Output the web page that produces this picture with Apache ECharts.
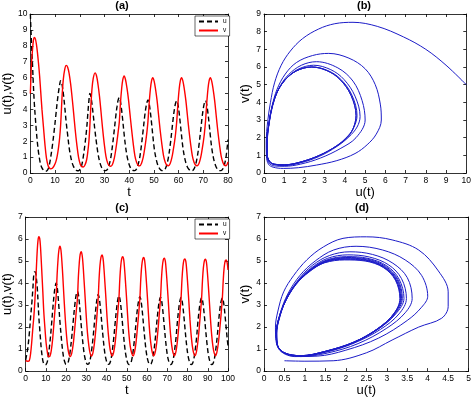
<!DOCTYPE html>
<html>
<head>
<meta charset="utf-8">
<script src="https://cdn.jsdelivr.net/npm/echarts@6/dist/echarts.min.js"></script>
<style>
  html, body { margin: 0; padding: 0; background: #fff; }
  #main { width: 474px; height: 398px; }
</style>
</head>
<body>
<div id="main"></div>
<script>
// (a)/(b): first run, t in [0,80] (one line per cycle)
var tA = [0, 0.25, 0.5, 0.85, 1.2, 1.6, 2.0, 2.4, 2.85, 3.3, 3.75, 4.2, 4.7, 5.3, 5.9, 6.5, 7.1, 7.6, 8.2, 8.9, 9.6, 10.3, 10.9, 11.4, 11.85, 12.25, 12.55, 12.9, 13.35, 13.9, 14.5,
  15.1, 15.7, 16.3, 16.9, 17.5, 18.1, 18.8, 19.5, 20.2, 20.8, 21.4, 22.1, 22.8, 23.3, 23.7, 24.1, 24.45, 24.9, 25.45, 26.2,
  26.8, 27.4, 28.0, 28.6, 29.2, 29.9, 30.6, 31.3, 31.9, 32.6, 33.3, 34.0, 34.6, 35.1, 35.55, 36.0, 36.45, 36.95, 37.4, 37.95,
  38.5, 39.1, 39.7, 40.3, 40.9, 41.6, 42.3, 43.0, 43.6, 44.3, 45.0, 45.7, 46.3, 46.8, 47.2, 47.6,
  48.1, 48.6, 49.05, 49.55, 50.1, 50.7, 51.3, 51.9, 52.5, 53.2, 53.9, 54.6, 55.2, 55.9, 56.6, 57.3, 57.9, 58.4, 58.8, 59.25,
  59.75, 60.25, 60.7, 61.2, 61.75, 62.35, 62.95, 63.55, 64.15, 64.85, 65.55, 66.25, 66.85, 67.55, 68.25, 68.95, 69.55, 70.05, 70.45, 70.9,
  71.4, 71.9, 72.35, 72.85, 73.4, 74.0, 74.6, 75.2, 75.8, 76.5, 77.2, 77.9, 78.5, 79.2, 80.0];
var uA = [10, 9.0, 8.0, 6.9, 5.6, 4.4, 3.5, 2.7, 1.9, 1.3, 0.85, 0.52, 0.32, 0.18, 0.11, 0.12, 0.22, 0.45, 0.95, 1.7, 2.6, 3.6, 4.5, 5.1, 5.55, 5.8, 5.75, 5.5, 5.0, 4.2, 3.2,
  2.4, 1.6, 1.05, 0.65, 0.4, 0.24, 0.15, 0.14, 0.26, 0.5, 1.0, 1.8, 2.8, 3.8, 4.55, 5.0, 4.85, 4.4, 3.65, 2.6,
  1.85, 1.2, 0.74, 0.44, 0.26, 0.16, 0.15, 0.26, 0.52, 1.0, 1.8, 2.75, 3.6, 4.2, 4.6, 4.75, 4.5, 3.95, 3.3, 2.45,
  1.7, 1.1, 0.68, 0.4, 0.25, 0.16, 0.15, 0.26, 0.52, 1.0, 1.8, 2.75, 3.6, 4.15, 4.45, 4.6,
  4.35, 3.8, 3.15, 2.38, 1.6, 1.03, 0.64, 0.38, 0.24, 0.15, 0.15, 0.26, 0.5, 1.0, 1.75, 2.7, 3.55, 4.1, 4.4, 4.55,
  4.3, 3.75, 3.1, 2.35, 1.6, 1.03, 0.64, 0.38, 0.24, 0.15, 0.15, 0.26, 0.5, 1.0, 1.75, 2.7, 3.55, 4.1, 4.4, 4.55,
  4.3, 3.75, 3.1, 2.35, 1.6, 1.03, 0.64, 0.38, 0.24, 0.15, 0.15, 0.26, 0.5, 1.0, 2.1];
var vA = [5, 6.1, 7.0, 7.7, 8.3, 8.53, 8.45, 8.15, 7.6, 6.9, 6.1, 5.1, 4.0, 2.9, 1.8, 0.95, 0.5, 0.33, 0.26, 0.3, 0.45, 0.7, 1.1, 1.6, 2.2, 3.0, 3.9, 5.0, 5.9, 6.5, 6.77,
  6.65, 6.25, 5.6, 4.75, 3.8, 2.8, 1.8, 1.0, 0.55, 0.4, 0.38, 0.5, 0.85, 1.4, 2.0, 3.0, 4.1, 5.2, 5.95, 6.3,
  6.1, 5.55, 4.8, 3.85, 2.85, 1.85, 1.05, 0.62, 0.47, 0.42, 0.57, 0.95, 1.5, 2.05, 2.6, 3.2, 4.35, 5.3, 5.85, 6.1,
  5.88, 5.35, 4.65, 3.75, 2.85, 1.9, 1.1, 0.67, 0.49, 0.45, 0.62, 1.0, 1.55, 2.1, 2.6, 3.25,
  4.4, 5.3, 5.8, 6.0, 5.78, 5.25, 4.55, 3.65, 2.75, 1.85, 1.1, 0.68, 0.5, 0.46, 0.6, 0.98, 1.5, 2.0, 2.5, 3.25,
  4.4, 5.3, 5.8, 6.0, 5.78, 5.25, 4.55, 3.65, 2.75, 1.85, 1.1, 0.68, 0.5, 0.46, 0.6, 0.98, 1.5, 2.0, 2.5, 3.25,
  4.4, 5.3, 5.8, 6.0, 5.78, 5.25, 4.55, 3.65, 2.75, 1.85, 1.1, 0.68, 0.5, 0.46, 0.7];

// (c)/(d): second run, t in [0,100]
var tC = [0, 1.0, 1.8, 2.5, 3.1, 3.6, 4.0, 4.4, 4.8, 5.25, 5.75, 6.15, 6.5, 6.95, 7.35, 7.7, 8.1, 8.5, 8.95, 9.5, 10.1, 10.7, 11.3, 12.0, 12.7, 13.4, 14.1, 14.6, 15.1,
  15.55, 16.0, 16.45, 16.95, 17.45, 17.9, 18.35, 18.85, 19.4, 20.0, 20.65, 21.3, 22.0, 22.8, 23.55, 24.3, 24.95, 25.6,
  26.05, 26.5, 26.95, 27.45, 27.95, 28.4, 28.85, 29.4, 29.95, 30.55, 31.2, 31.85, 32.55, 33.3, 34.0, 34.7, 35.3, 35.85,
  36.3, 36.75, 37.25, 37.75, 38.25, 38.7, 39.15, 39.7, 40.25, 40.85, 41.45, 42.1, 42.8, 43.55, 44.25, 44.9, 45.5, 46.1,
  46.55, 47.0, 47.5, 48.0, 48.5, 48.95, 49.4, 49.95, 50.5, 51.05, 51.65, 52.4, 53.1, 53.85, 54.55, 55.2, 55.85, 56.45,
  56.9, 57.35, 57.85, 58.35, 58.85, 59.3, 59.75, 60.3, 60.85, 61.4, 62.0, 62.65, 63.35, 64.1, 64.8, 65.45, 66.05, 66.65,
  67.1, 67.55, 68.05, 68.55, 69.05, 69.5, 69.95, 70.5, 71.05, 71.6, 72.2, 72.85, 73.55, 74.3, 74.95, 75.6, 76.2, 76.8,
  77.25, 77.7, 78.2, 78.7, 79.2, 79.65, 80.1, 80.65, 81.2, 81.75, 82.35, 83.0, 83.7, 84.45, 85.1, 85.75, 86.35, 86.95,
  87.4, 87.85, 88.35, 88.85, 89.35, 89.8, 90.25, 90.8, 91.35, 91.9, 92.5, 93.15, 93.85, 94.6, 95.3, 95.95, 96.6, 97.2,
  97.65, 98.1, 98.6, 99.1, 99.6, 100];
var uC = [0.5, 1.0, 1.69, 2.5, 3.13, 3.78, 4.34, 4.5, 4.5, 4.26, 3.78, 3.13, 2.5, 1.93, 1.45, 1.05, 0.72, 0.48, 0.34, 0.28, 0.3, 0.42, 0.75, 1.3, 2.0, 2.8, 3.5, 3.85, 4.0,
  3.85, 3.45, 2.9, 2.25, 1.7, 1.25, 0.88, 0.58, 0.4, 0.31, 0.33, 0.5, 0.9, 1.55, 2.3, 3.0, 3.45, 3.62,
  3.5, 3.15, 2.65, 2.1, 1.6, 1.18, 0.84, 0.56, 0.39, 0.31, 0.33, 0.5, 0.9, 1.5, 2.2, 2.85, 3.3, 3.48,
  3.36, 3.05, 2.58, 2.05, 1.55, 1.14, 0.81, 0.54, 0.38, 0.31, 0.33, 0.5, 0.9, 1.5, 2.2, 2.8, 3.22, 3.42,
  3.3, 3.0, 2.54, 2.02, 1.52, 1.11, 0.79, 0.53, 0.36, 0.3, 0.33, 0.5, 0.9, 1.5, 2.2, 2.8, 3.2, 3.38,
  3.27, 2.97, 2.52, 2.0, 1.5, 1.1, 0.78, 0.52, 0.36, 0.3, 0.33, 0.5, 0.9, 1.5, 2.2, 2.78, 3.18, 3.36,
  3.25, 2.95, 2.5, 1.99, 1.5, 1.1, 0.78, 0.52, 0.36, 0.3, 0.33, 0.5, 0.9, 1.5, 2.2, 2.78, 3.17, 3.34,
  3.23, 2.94, 2.49, 1.98, 1.49, 1.1, 0.78, 0.52, 0.36, 0.3, 0.33, 0.5, 0.9, 1.5, 2.2, 2.78, 3.17, 3.33,
  3.22, 2.93, 2.48, 1.98, 1.49, 1.1, 0.78, 0.52, 0.36, 0.3, 0.33, 0.5, 0.9, 1.5, 2.2, 2.78, 3.17, 3.32,
  3.21, 2.92, 2.47, 1.97, 1.48, 1.15];
var vC = [0.47, 0.45, 0.47, 0.83, 1.41, 2.0, 2.4, 2.94, 3.6, 4.55, 5.5, 5.96, 6.1, 6.03, 5.64, 5.06, 4.33, 3.6, 2.73, 2.0, 1.3, 0.88, 0.66, 0.68, 0.95, 1.5, 2.3, 2.9, 3.4,
  4.35, 5.05, 5.5, 5.67, 5.5, 5.0, 4.35, 3.5, 2.65, 1.85, 1.2, 0.82, 0.66, 0.82, 1.25, 1.95, 2.65, 3.3,
  4.25, 4.9, 5.3, 5.42, 5.25, 4.8, 4.15, 3.35, 2.5, 1.75, 1.18, 0.82, 0.68, 0.85, 1.27, 1.9, 2.6, 3.3,
  4.2, 4.82, 5.18, 5.28, 5.12, 4.66, 4.05, 3.27, 2.42, 1.7, 1.17, 0.82, 0.69, 0.88, 1.3, 1.92, 2.6, 3.3,
  4.18, 4.78, 5.12, 5.2, 5.04, 4.58, 3.98, 3.2, 2.38, 1.68, 1.16, 0.82, 0.69, 0.88, 1.3, 1.92, 2.6, 3.3,
  4.17, 4.76, 5.09, 5.16, 5.0, 4.55, 3.96, 3.18, 2.37, 1.68, 1.16, 0.82, 0.7, 0.89, 1.31, 1.92, 2.6, 3.3,
  4.16, 4.74, 5.06, 5.13, 4.98, 4.53, 3.95, 3.17, 2.36, 1.68, 1.16, 0.83, 0.7, 0.9, 1.32, 1.93, 2.6, 3.3,
  4.15, 4.72, 5.04, 5.1, 4.96, 4.52, 3.94, 3.16, 2.36, 1.68, 1.16, 0.83, 0.7, 0.9, 1.32, 1.93, 2.6, 3.3,
  4.14, 4.71, 5.02, 5.08, 4.94, 4.5, 3.93, 3.15, 2.35, 1.68, 1.16, 0.83, 0.7, 0.9, 1.32, 1.93, 2.6, 3.3,
  4.13, 4.7, 5.0, 5.05, 4.92, 4.6];

var FONT = 'Liberation Sans';

function zip(a, b) {
    var out = [];
    for (var i = 0; i < a.length; i++) {
        out.push([a[i], b[i]]);
    }
    return out;
}

// 每个子图: 下/上 x 轴, 左/右 y 轴 (MATLAB 式边框和内刻度)
var xAxes = [], yAxes = [];
function addAxes(g, xr, yr, xname, yname, xGap, yGap) {
    var line = { show: true, onZero: false, lineStyle: { color: '#000', width: 0.8 } };
    var tick = { show: true, inside: true, length: 3, lineStyle: { color: '#000', width: 0.8 } };
    var label = { show: true, margin: 3, fontSize: 8.5, color: '#000', fontFamily: FONT };
    var nameStyle = { fontSize: 13, color: '#000', fontFamily: FONT };
    xAxes.push({
        gridIndex: g, type: 'value', position: 'bottom', min: xr[0], max: xr[1], interval: xr[2],
        axisLine: line, axisTick: tick, axisLabel: label, splitLine: { show: false },
        name: xname, nameLocation: 'middle', nameGap: xGap, nameTextStyle: nameStyle
    });
    xAxes.push({
        gridIndex: g, type: 'value', position: 'top', min: xr[0], max: xr[1], interval: xr[2],
        axisLine: line, axisTick: tick, axisLabel: { show: false }, splitLine: { show: false }
    });
    yAxes.push({
        gridIndex: g, type: 'value', position: 'left', min: yr[0], max: yr[1], interval: yr[2],
        axisLine: line, axisTick: tick, axisLabel: label, splitLine: { show: false },
        name: yname, nameLocation: 'middle', nameGap: yGap, nameTextStyle: nameStyle
    });
    yAxes.push({
        gridIndex: g, type: 'value', position: 'right', min: yr[0], max: yr[1], interval: yr[2],
        axisLine: line, axisTick: tick, axisLabel: { show: false }, splitLine: { show: false }
    });
}
addAxes(0, [0, 80, 10], [0, 10, 1], 't', 'u(t),v(t)', 9, 10);
addAxes(1, [0, 10, 1], [0, 9, 1], 'u(t)', 'v(t)', 10, 9);
addAxes(2, [0, 100, 10], [0, 7, 1], 't', 'u(t),v(t)', 9, 10);
addAxes(3, [0, 5, 0.5], [0, 7, 1], 'u(t)', 'v(t)', 10, 9);

function timeSeries(name, g, t, y, color, dashed) {
    return {
        name: name, type: 'line', xAxisIndex: 2 * g, yAxisIndex: 2 * g,
        data: zip(t, y), symbol: 'none', showSymbol: false, smooth: 0.35,
        lineStyle: { color: color, width: 1.4, type: dashed ? [5, 3] : 'solid' },
        itemStyle: { color: color }
    };
}
function phase(name, g, u, v) {
    return {
        name: name, type: 'line', xAxisIndex: 2 * g, yAxisIndex: 2 * g,
        data: zip(u, v), symbol: 'none', showSymbol: false, smooth: 0.35,
        lineStyle: { color: '#1c1cc8', width: 1 }, itemStyle: { color: '#1c1cc8' }
    };
}

function legendAt(top) {
    return {
        data: ['u', 'v'], orient: 'vertical', left: 195, top: top,
        itemWidth: 19, itemHeight: 8, itemGap: 2, padding: [2, 3, 2, 3],
        borderColor: '#000', borderWidth: 0.6, borderRadius: 0, backgroundColor: '#fff',
        itemStyle: { color: 'rgba(0,0,0,0)', borderColor: 'rgba(0,0,0,0)', borderWidth: 0, opacity: 0 },
        textStyle: { fontSize: 6.5, color: '#000', fontFamily: FONT }, selectedMode: false
    };
}
function titleAt(text, x, y) {
    return {
        text: text, left: x, top: y, textAlign: 'center', padding: 0,
        textStyle: { fontSize: 11, fontWeight: 'bold', color: '#000', fontFamily: FONT }
    };
}

var chart = echarts.init(document.getElementById('main'));
var option = {
    backgroundColor: '#fff',
    animation: false,
    title: [titleAt('(a)', 122, 0), titleAt('(b)', 364, 0), titleAt('(c)', 122, 202), titleAt('(d)', 362, 202)],
    legend: [legendAt(16), legendAt(219)],
    grid: [
        { left: 21, top: 14, width: 207, height: 159 },
        { left: 264, top: 14, width: 207, height: 159 },
        { left: 21, top: 217, width: 207, height: 160 },
        { left: 264, top: 217, width: 207, height: 160 }
    ],
    xAxis: xAxes,
    yAxis: yAxes,
    series: [
        timeSeries('u', 0, tA, uA, '#000', true),
        timeSeries('v', 0, tA, vA, '#f00', false),
        phase('b', 1, uA, vA),
        timeSeries('u', 2, tC, uC, '#000', true),
        timeSeries('v', 2, tC, vC, '#f00', false),
        phase('d', 3, uC, vC)
    ]
};
chart.setOption(option);
</script>
</body>
</html>
